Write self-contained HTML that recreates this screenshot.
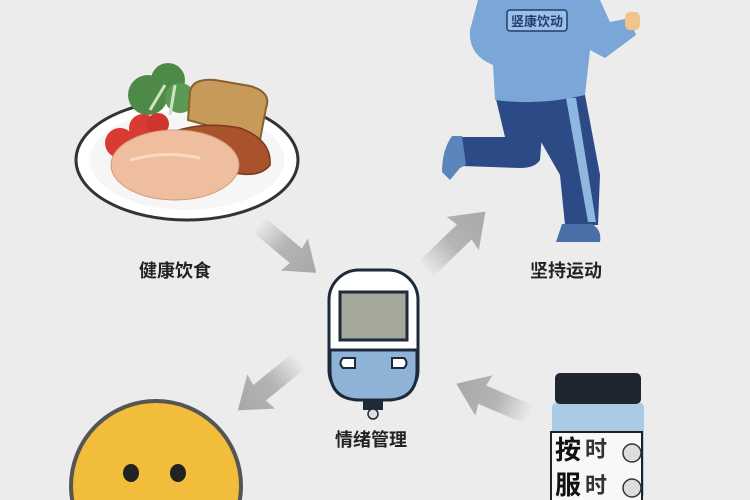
<!DOCTYPE html>
<html><head><meta charset="utf-8"><style>
html,body{margin:0;padding:0;background:#ececec;width:750px;height:500px;overflow:hidden;}
svg{display:block}
text{font-family:"Liberation Sans","Noto Sans CJK SC",sans-serif;font-weight:bold;}
</style></head><body>
<svg width="750" height="500" viewBox="0 0 750 500" xmlns="http://www.w3.org/2000/svg">
<defs>
<linearGradient id="ag" x1="0" x2="1" y1="0" y2="0">
<stop offset="0" stop-color="#ececec"/><stop offset="0.45" stop-color="#b4b4b4"/><stop offset="1" stop-color="#a8a8a8"/></linearGradient>
<g id="arr"><polygon points="0,-10 52,-10 50,-22 80,0 50,22 52,10 0,10" fill="url(#ag)"/></g>
</defs>
<rect width="750" height="500" fill="#ececec"/>

<!-- plate -->
<ellipse cx="187" cy="160" rx="111" ry="60" fill="#fff" stroke="#333" stroke-width="3"/>
<ellipse cx="187" cy="160" rx="97" ry="50" fill="#f6f6f6"/>
<circle cx="148" cy="95" r="20" fill="#4d8a48"/><circle cx="168" cy="80" r="17" fill="#4d8a48"/><circle cx="180" cy="98" r="15" fill="#5a9a55"/>
<path d="M150 110 L165 85 M170 115 L175 85" stroke="#cfe3c0" stroke-width="3"/>
<path d="M188 120 L190 92 Q192 78 215 80 L250 86 Q272 92 266 108 L260 140 Z" fill="#c89a5a" stroke="#8a6030" stroke-width="2"/>
<circle cx="120" cy="143" r="15" fill="#d93a32"/><circle cx="143" cy="128" r="14" fill="#d93a32"/><circle cx="158" cy="124" r="11" fill="#cf3530"/>
<path d="M165 135 Q200 120 240 128 Q272 140 270 165 Q260 178 235 173 Q190 165 165 135Z" fill="#a8532c" stroke="#7a3a1e" stroke-width="1.5"/>
<ellipse cx="175" cy="165" rx="64" ry="35" fill="#efbe9e" stroke="#d49a7a" stroke-width="1"/>
<path d="M130 160 Q165 150 200 158" stroke="#f8d9c6" stroke-width="3" fill="none"/>

<text x="175" y="277" font-size="18" text-anchor="middle" fill="#222">健康饮食</text>

<use href="#arr" transform="translate(258,224) rotate(40) scale(0.95)"/>
<use href="#arr" transform="translate(425,270) rotate(-44) scale(1.05)"/>
<use href="#arr" transform="translate(530,415) rotate(-157) scale(1.0)"/>
<use href="#arr" transform="translate(300,360) rotate(141) scale(1.0)"/>

<!-- runner -->
<!-- back leg -->
<path d="M495 95 L545 95 L540 160 Q535 168 520 168 L462 166 L462 137 L505 137 Z" fill="#2b4a86"/>
<path d="M462 136 L452 136 Q442 150 442 172 L450 180 L460 168 L466 165 Z" fill="#5b86bd"/>
<!-- front leg -->
<path d="M530 98 L585 95 L600 175 L598 225 L565 225 L560 175 L540 140 Z" fill="#2b4a86"/>
<path d="M566 98 L576 98 L596 222 L588 222Z" fill="#8fb8e0"/>
<path d="M562 224 L592 224 Q602 230 600 242 L556 242 Z" fill="#4a6fa8"/>
<!-- hoodie -->
<path d="M478 0 L600 0 L610 22 L630 18 L636 35 L605 58 L590 50 L585 95 Q540 106 495 100 L493 65 Q468 55 470 30 Z" fill="#7aa6d8"/>
<rect x="625" y="12" width="15" height="18" rx="5" fill="#f0c48c"/>
<rect x="507" y="10" width="60" height="21" rx="3" fill="#9bc0e6" stroke="#233d6e" stroke-width="1.5"/>
<text x="537" y="26" font-size="13" text-anchor="middle" fill="#233d6e">竖康饮动</text>
<text x="566" y="277" font-size="18" text-anchor="middle" fill="#222">坚持运动</text>

<!-- meter -->
<rect x="329" y="270" width="89" height="130" rx="30" fill="#fff" stroke="#1e2a3a" stroke-width="3"/>
<path d="M330 350 L417 350 L417 370 Q417 400 387 400 L360 400 Q330 400 330 370Z" fill="#8fb3d6" stroke="#1e2a3a" stroke-width="3"/>
<rect x="340" y="292" width="67" height="48" fill="#a3a89a" stroke="#1e2a3a" stroke-width="3"/>
<path d="M343 358 L355 358 L355 368 L343 368 Q338 363 343 358Z M392 358 L404 358 Q409 363 404 368 L392 368Z" fill="#fff" stroke="#1e2a3a" stroke-width="2"/>
<rect x="363" y="400" width="20" height="10" fill="#1e2a3a"/>
<circle cx="373" cy="414" r="5" fill="#ddd" stroke="#1e2a3a" stroke-width="1.5"/>
<text x="371" y="446" font-size="18" text-anchor="middle" fill="#222">情绪管理</text>

<!-- bottle -->
<rect x="552" y="402" width="92" height="98" rx="6" fill="#a9cbe6"/>
<rect x="555" y="373" width="86" height="31" rx="5" fill="#1f2630"/>
<rect x="551" y="432" width="91" height="70" fill="#f8f8f8" stroke="#222" stroke-width="2"/>
<text x="555" y="459" font-size="26" fill="#111">按</text>
<text x="585" y="457" font-size="22" font-weight="normal" fill="#333">时</text>
<text x="555" y="494" font-size="26" fill="#111">服</text>
<text x="585" y="493" font-size="22" font-weight="normal" fill="#333">时</text>
<circle cx="632" cy="453" r="9" fill="#ddd" stroke="#333" stroke-width="1.5"/>
<circle cx="632" cy="488" r="9" fill="#ddd" stroke="#333" stroke-width="1.5"/>

<!-- emoji -->
<circle cx="156" cy="486" r="85" fill="#f1bd3a" stroke="#555" stroke-width="4"/>
<ellipse cx="131" cy="473" rx="8" ry="9" fill="#222"/>
<ellipse cx="178" cy="473" rx="8" ry="9" fill="#222"/>
</svg>
</body></html>
